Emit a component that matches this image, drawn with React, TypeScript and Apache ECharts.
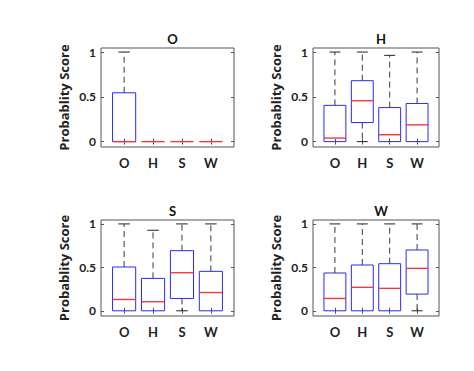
import React, { useEffect, useRef } from "react";
import * as echarts from "echarts";

// Class labels along each x axis and the title of each panel
const categories = ["O", "H", "S", "W"];
const panelTitles = ["O", "H", "S", "W"];
const yTickValues = [0, 0.5, 1];
const yAxisName = "Probablity Score";

// Box statistics per class: [min, q1, median, q3, max]
const statsO = [
  [0, 0, 0, 0.545, 1],
  [0, 0, 0, 0, 0],
  [0, 0, 0, 0, 0],
  [0, 0, 0, 0, 0],
];
const statsH = [
  [0, 0, 0.04, 0.405, 1],
  [0, 0.213, 0.456, 0.68, 1],
  [0, 0, 0.077, 0.38, 0.963],
  [0, 0, 0.1875, 0.426, 1],
];
const statsS = [
  [0, 0, 0.13, 0.504, 1],
  [0, 0, 0.104, 0.373, 0.927],
  [0, 0.142, 0.438, 0.692, 1],
  [0, 0, 0.21, 0.454, 1],
];
const statsW = [
  [0, 0, 0.142, 0.435, 1],
  [0, 0, 0.27, 0.527, 1],
  [0, 0, 0.258, 0.542, 1],
  [0, 0.192, 0.488, 0.7, 1],
];
const panelStats = [statsO, statsH, statsS, statsW];

const FONT = "Lato";
const NAME_FONT = "Open Sans";
const BOX_COLOR = "#2a2af0";
const MEDIAN_COLOR = "#f03a3a";
const WHISKER_COLOR = "#3a3a3a";
const FRAME_COLOR = "#555";

const grids = [
  { left: 101, top: 48, width: 133, height: 99 },
  { left: 313, top: 48, width: 126, height: 99 },
  { left: 101, top: 220, width: 133, height: 96 },
  { left: 313, top: 220, width: 126, height: 96 },
];

const X_MIN = 0.2;
const X_MAX = 4.8;
const Y_MIN = -0.06;
const Y_MAX = 1.045;
const BOX_W = 0.8;
const CAP_W = 0.4;

function renderBox(params: any, api: any) {
  const x = api.value(0);
  const vMin = api.value(1);
  const q1 = api.value(2);
  const med = api.value(3);
  const q3 = api.value(4);
  const vMax = api.value(5);
  const half = api.size([BOX_W, 0])[0] / 2;
  const capHalf = api.size([CAP_W, 0])[0] / 2;
  const cx = api.coord([x, 0])[0];
  const yMin = api.coord([x, vMin])[1];
  const yQ1 = api.coord([x, q1])[1];
  const yMed = api.coord([x, med])[1];
  const yQ3 = api.coord([x, q3])[1];
  const yMax = api.coord([x, vMax])[1];
  const dashed = { stroke: WHISKER_COLOR, lineWidth: 1, lineDash: [6, 4] };
  const solid = { stroke: "#222", lineWidth: 1 };
  const children: any[] = [];
  // whiskers and their end caps, only where they extend past the box
  if (vMax > q3) {
    children.push({ type: "line", shape: { x1: cx, y1: yQ3, x2: cx, y2: yMax }, style: dashed });
    children.push({ type: "line", shape: { x1: cx - capHalf, y1: yMax, x2: cx + capHalf, y2: yMax }, style: solid });
  }
  if (q1 > vMin) {
    children.push({ type: "line", shape: { x1: cx, y1: yQ1, x2: cx, y2: yMin }, style: dashed });
    children.push({ type: "line", shape: { x1: cx - capHalf, y1: yMin, x2: cx + capHalf, y2: yMin }, style: solid });
  }
  if (q3 > q1) {
    children.push({
      type: "rect",
      shape: { x: cx - half, y: yQ3, width: half * 2, height: yQ1 - yQ3 },
      style: { fill: "none", stroke: BOX_COLOR, lineWidth: 1 },
    });
  }
  children.push({
    type: "line",
    shape: { x1: cx - half, y1: yMed, x2: cx + half, y2: yMed },
    style: { stroke: MEDIAN_COLOR, lineWidth: 1.4 },
  });
  return { type: "group", children };
}

function buildOption() {
  const grid: any[] = [];
  const xAxis: any[] = [];
  const yAxis: any[] = [];
  const series: any[] = [];
  const title: any[] = [];

  grids.forEach((g, i) => {
    grid.push({
      ...g,
      show: true,
      borderColor: FRAME_COLOR,
      borderWidth: 1,
      backgroundColor: "#fff",
      containLabel: false,
    });
    // bottom axis with labels
    xAxis.push({
      type: "value",
      gridIndex: i,
      position: "bottom",
      min: X_MIN,
      max: X_MAX,
      axisLine: { show: false },
      splitLine: { show: false },
      axisTick: { show: true, inside: true, length: 3, customValues: [1, 2, 3, 4], lineStyle: { color: FRAME_COLOR } },
      axisLabel: {
        customValues: [1, 2, 3, 4],
        formatter: (v: number) => categories[Math.round(v) - 1] ?? "",
        margin: 9,
        fontFamily: FONT,
        fontWeight: "bold",
        fontSize: 13,
        color: "#222",
      },
    });
    // mirrored ticks on top
    xAxis.push({
      type: "value",
      gridIndex: i,
      position: "top",
      min: X_MIN,
      max: X_MAX,
      axisLine: { show: false },
      splitLine: { show: false },
      axisTick: { show: true, inside: true, length: 3, customValues: [1, 2, 3, 4], lineStyle: { color: FRAME_COLOR } },
      axisLabel: { show: false },
    });
    yAxis.push({
      type: "value",
      gridIndex: i,
      position: "left",
      min: Y_MIN,
      max: Y_MAX,
      name: yAxisName,
      nameLocation: "middle",
      nameRotate: 90,
      nameGap: 31,
      nameTextStyle: { fontFamily: NAME_FONT, fontWeight: "bold", fontSize: 13, color: "#222" },
      axisLine: { show: false },
      splitLine: { show: false },
      axisTick: { show: true, inside: true, length: 3, customValues: yTickValues, lineStyle: { color: FRAME_COLOR } },
      axisLabel: {
        customValues: yTickValues,
        formatter: (v: number) => String(v),
        margin: 5,
        fontFamily: FONT,
        fontWeight: "bold",
        fontSize: 12,
        color: "#222",
      },
    });
    yAxis.push({
      type: "value",
      gridIndex: i,
      position: "right",
      min: Y_MIN,
      max: Y_MAX,
      axisLine: { show: false },
      splitLine: { show: false },
      axisTick: { show: true, inside: true, length: 3, customValues: yTickValues, lineStyle: { color: FRAME_COLOR } },
      axisLabel: { show: false },
    });
    series.push({
      type: "custom",
      xAxisIndex: i * 2,
      yAxisIndex: i * 2,
      renderItem: renderBox,
      encode: { x: 0, y: [1, 2, 3, 4, 5] },
      data: panelStats[i].map((s, k) => [k + 1, ...s]),
      z: 3,
    });
    title.push({
      text: panelTitles[i],
      left: g.left + g.width / 2,
      top: g.top - 21,
      textAlign: "center",
      textStyle: { fontFamily: FONT, fontWeight: "bold", fontSize: 13, color: "#111" },
    });
  });

  return { animation: false, backgroundColor: "#fff", title, grid, xAxis, yAxis, series };
}

export default function App() {
  const ref = useRef<HTMLDivElement>(null);
  useEffect(() => {
    if (!ref.current) return;
    const chart = echarts.init(ref.current, undefined, { renderer: "svg" });
    chart.setOption(buildOption());
    return () => chart.dispose();
  }, []);
  return (
    <div
      ref={ref}
      style={{ position: "fixed", left: 0, top: 0, width: 474, height: 371, background: "#fff" }}
    />
  );
}
